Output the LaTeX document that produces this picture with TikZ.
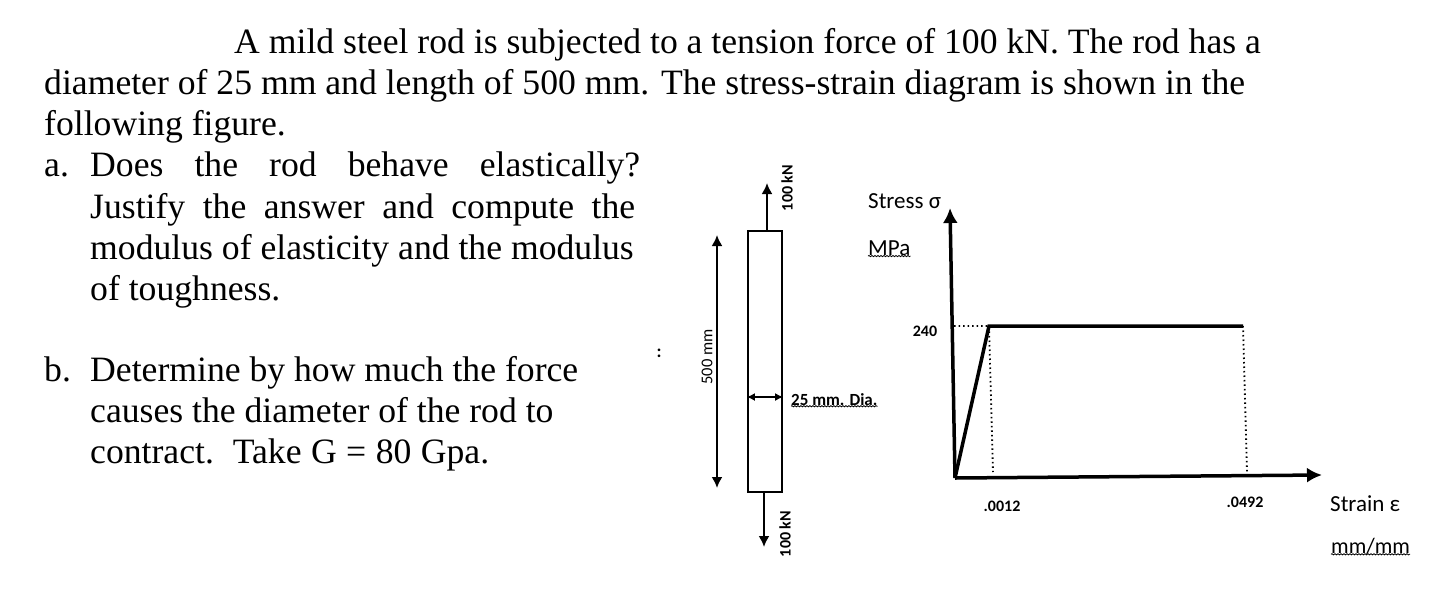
\documentclass[tikz,border=0pt]{standalone}
\usepackage{fontspec}
\setmainfont{Liberation Serif}
\newfontfamily\figfont{Carlito}
\usetikzlibrary{positioning,arrows.meta,decorations.pathmorphing}
\tikzset{
 qline/.style={anchor=base west,inner sep=0pt,font=\fontsize{35.65}{41}\selectfont},
 figlabel/.style={inner sep=0pt,font=\figfont\fontsize{23}{26}\selectfont},
 smalllabel/.style={inner sep=0pt,font=\figfont\bfseries\fontsize{16}{18}\selectfont},
 axisline/.style={line width=3.5pt,-{Latex[length=15pt,width=15pt]}},
 curveline/.style={line width=3.5pt},
 rodline/.style={line width=2.2pt},
 forceline/.style={line width=2pt,-{Latex[length=11pt,width=11pt]}},
 guideline/.style={line width=1.8pt,dash pattern=on 1.5pt off 3pt},
 squiggle/.style={line width=.8pt,decorate,decoration={snake,amplitude=.6pt,segment length=3pt}}
}
\begin{document}
\begin{tikzpicture}[x=1pt,y=-1pt]
\useasboundingbox (0,0) rectangle (1432,590);
\node[qline](l1) at (234,53) {A mild steel rod is subjected to a tension force of 100 kN. The rod has a};
\node[qline](l2) at (44,94) {diameter of 25 mm and length of 500 mm. The stress-strain diagram is shown in the};
\node[qline](l3) at (44,135) {following figure.};
\node[qline](a1) at (44,176) {a.};
\node[qline](a2) at (90,176) {\makebox[550pt][s]{Does the rod behave elastically?}};
\node[qline](a3) at (90,218) {\makebox[545pt][s]{Justify the answer and compute the}};
\node[qline](a4) at (90,259) {modulus of elasticity and the modulus};
\node[qline](a5) at (90,300) {of toughness.};
\node[qline](b1) at (44,381) {b.};
\node[qline](b2) at (90,381) {Determine by how much the force};
\node[qline](b3) at (90,422) {causes the diameter of the rod to};
\node[qline](b4) at (90,463) {\makebox[399pt][s]{contract.\ \ Take G = 80 Gpa.}};
\node[inner sep=0pt,font=\figfont\bfseries\fontsize{18}{20}\selectfont](speck) at (659,353) {:};

\node[rodline,draw,minimum width=34pt,minimum height=261pt,inner sep=0pt](rod) at (765,361.5) {};
\coordinate(topend) at (767,183);
\coordinate(botend) at (764,547);
\coordinate(dimtop) at (717,235);
\coordinate[below=253pt of dimtop](dimbot);
\coordinate(diaw) at (rod.west |- 0,397);
\coordinate(diae) at (rod.east |- 0,397);
\draw[forceline] (topend |- rod.north) -- (topend);
\draw[forceline] (botend |- rod.south) -- (botend);
\draw[forceline,{Latex[length=11pt,width=11pt]}-{Latex[length=11pt,width=11pt]}] (dimtop) -- (dimbot);
\draw[line width=1.5pt,{Latex[length=8pt,width=8pt]}-{Latex[length=8pt,width=8pt]}] (diaw) -- (diae);
\node[figlabel,rotate=90,font=\figfont\fontsize{16.5}{18}\selectfont](len) at (707,357) {500 mm};
\node[smalllabel,rotate=90](ftop) at (787,188) {100 kN};
\node[smalllabel,rotate=90](fbot) at (785,534) {100 kN};
\node[figlabel,anchor=west,font=\figfont\bfseries\fontsize{17}{20}\selectfont](dia) at (791,400) {25 mm. Dia.};
\draw[squiggle] (dia.south west) -- (dia.south east);

\coordinate(o) at (955,478);
\coordinate(ytop) at (950,208);
\coordinate(xend) at (1322,475);
\coordinate(yield) at (989,326);
\coordinate(fract) at (1243,326);
\coordinate(ymark) at (954,326);
\coordinate(yieldfoot) at (993,472);
\coordinate(fractfoot) at (1247,472);
\draw[axisline] (o) -- (ytop);
\draw[axisline] (o) -- (xend);
\draw[curveline] (o) -- (yield) -- (fract);
\draw[guideline] (ymark) -- (yield) -- (yieldfoot);
\draw[guideline] (fract) -- (fractfoot);
\node[figlabel,anchor=west](stress) at (868,201) {Stress\ σ};
\node[figlabel,below=32pt of stress.south west,anchor=north west](mpa) {MPa};
\draw[squiggle] (mpa.south west) -- (mpa.south east);
\node[smalllabel](s240) at (925,331) {240};
\node[smalllabel](e1) at (1002,506) {.0012};
\node[smalllabel](e2) at (1245,502) {.0492};
\node[figlabel,anchor=west](strain) at (1330,504) {Strain ε};
\node[figlabel,anchor=west,font=\figfont\fontsize{22}{26}\selectfont](mm) at (1331,546) {mm/mm};
\draw[squiggle] (mm.south west) -- (mm.south east);
\end{tikzpicture}
\end{document}
